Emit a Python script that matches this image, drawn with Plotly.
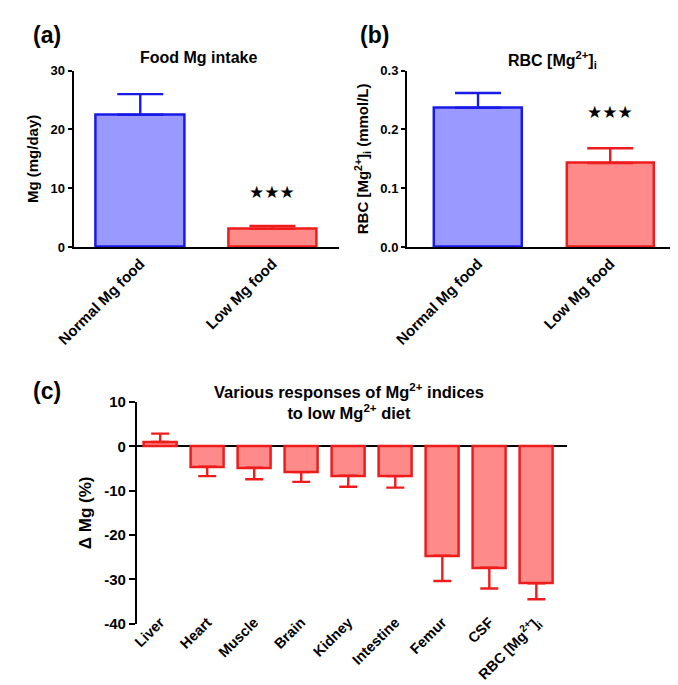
import plotly.graph_objects as go

# (a) food Mg intake
food_groups = ["Normal Mg food", "Low Mg food"]
intake_mean = [22.5, 3.1]
intake_err = [3.5, 0.5]

# (b) RBC [Mg2+]i
rbc_mean = [0.237, 0.143]
rbc_err = [0.025, 0.025]

# (c) response of Mg indices, % change
tissues = ["Liver", "Heart", "Muscle", "Brain", "Kidney", "Intestine",
           "Femur", "CSF", "RBC [Mg<sup>2+</sup>]<sub>i</sub>"]
delta_mg = [1.0, -4.6, -4.8, -5.8, -6.6, -6.7, -24.7, -27.4, -30.9]
delta_err = [1.9, 2.1, 2.6, 2.2, 2.5, 2.6, 5.7, 4.7, 3.6]

c_tickvals = [10, 0, -10, -20, -30, -40]
c_ticktext = ["10", "0", "-10", "-20", "-30", "-40"]

BLUE_FILL, BLUE_LINE = "#9999ff", "#1a1ae6"
RED_FILL, RED_LINE = "#ff8a8a", "#ee1c1c"
FONT = "Liberation Sans, Arial, sans-serif"


def bold(size):
    return dict(family=FONT, size=size, color="black", weight="bold")


def one_bar(x, y, err, fill, line, xa, ya, cap, width):
    # one-sided error bars, pointing away from zero
    up = [e if v >= 0 else 0 for v, e in zip(y, err)]
    down = [0 if v >= 0 else e for v, e in zip(y, err)]
    return go.Bar(x=x, y=y, xaxis=xa, yaxis=ya, width=width,
                  marker=dict(color=fill, line=dict(color=line, width=2.5)),
                  error_y=dict(type="data", symmetric=False, array=up, arrayminus=down,
                               color=line, thickness=2.4, width=cap),
                  showlegend=False)


fig = go.Figure()
fig.add_trace(one_bar(food_groups[:1], intake_mean[:1], intake_err[:1], BLUE_FILL, BLUE_LINE, "x", "y", 23, 0.67))
fig.add_trace(one_bar(food_groups[1:], intake_mean[1:], intake_err[1:], RED_FILL, RED_LINE, "x", "y", 23, 0.67))
fig.add_trace(one_bar(food_groups[:1], rbc_mean[:1], rbc_err[:1], BLUE_FILL, BLUE_LINE, "x2", "y2", 23, 0.66))
fig.add_trace(one_bar(food_groups[1:], rbc_mean[1:], rbc_err[1:], RED_FILL, RED_LINE, "x2", "y2", 23, 0.66))
fig.add_trace(one_bar(tissues, delta_mg, delta_err, RED_FILL, RED_LINE, "x3", "y3", 9, 0.69))

yax = dict(showline=True, linecolor="black", linewidth=2, ticks="outside", ticklen=4,
           tickwidth=2, tickcolor="black", showgrid=False, zeroline=False,
           tickfont=bold(13), title_font=bold(15))
xax = dict(showline=True, linecolor="black", linewidth=2, ticks="", showgrid=False,
           tickangle=-45, tickfont=bold(15))

fig.update_layout(
    width=678, height=685, margin=dict(l=0, r=0, t=0, b=0),
    plot_bgcolor="white", paper_bgcolor="white", bargap=0,
    xaxis=dict(xax, domain=[0.0708, 0.4735], range=[-0.504, 1.504], anchor="y"),
    yaxis=dict(yax, domain=[0.6555, 0.9197], range=[0, 30], dtick=10, anchor="x",
               title=dict(text="Mg (mg/day)", standoff=8)),
    xaxis2=dict(xax, domain=[0.5767, 0.9867], range=[-0.537, 1.507], anchor="y2"),
    yaxis2=dict(yax, domain=[0.6555, 0.9197], range=[0, 0.3], dtick=0.1, tickformat=".1f",
                anchor="x2", title=dict(text="RBC [Mg<sup>2+</sup>]<sub>i</sub> (mmol/L)", standoff=8)),
    # labels of (c) start a little above the bottom of the axis, as in the original
    xaxis3=dict(xax, domain=[0.1667, 0.8200], range=[-0.496, 8.66], anchor="free",
                position=0.112, showline=False, tickfont=bold(14.5)),
    yaxis3=dict(yax, domain=[0.0920, 0.4234], range=[-40, 10], anchor="x3",
                tickvals=c_tickvals, ticktext=c_ticktext, ticklen=6, tickfont=bold(15),
                zeroline=True, zerolinecolor="black", zerolinewidth=2,
                title=dict(text="Δ Mg (%)", standoff=8, font=bold(17))),
)

notes = [
    dict(text="(a)", x=0.006, y=0.995, font=bold(23), xanchor="left", yanchor="top"),
    dict(text="(b)", x=0.503, y=0.995, font=bold(23), xanchor="left", yanchor="top"),
    dict(text="(c)", x=0.006, y=0.462, font=bold(23), xanchor="left", yanchor="top"),
    dict(text="Food Mg intake", x=0.261, y=0.955, font=bold(16), xanchor="center"),
    dict(text="RBC [Mg<sup>2+</sup>]<sub>i</sub>", x=0.798, y=0.955, font=bold(16), xanchor="center"),
    dict(text="Various responses of Mg<sup>2+</sup> indices<br>to low Mg<sup>2+</sup> diet",
         x=0.488, y=0.425, font=bold(16.5), xanchor="center", yanchor="middle"),
]
for n in notes:
    fig.add_annotation(dict(xref="paper", yref="paper", showarrow=False, **n))

fig.add_annotation(x="Low Mg food", y=9.3, xref="x", yref="y", text="★★★",
                   showarrow=False, font=dict(family="DejaVu Sans", size=17, color="black"))
fig.add_annotation(x="Low Mg food", y=0.23, xref="x2", yref="y2", text="★★★",
                   showarrow=False, font=dict(family="DejaVu Sans", size=17, color="black"))

fig.write_html("out.html")
